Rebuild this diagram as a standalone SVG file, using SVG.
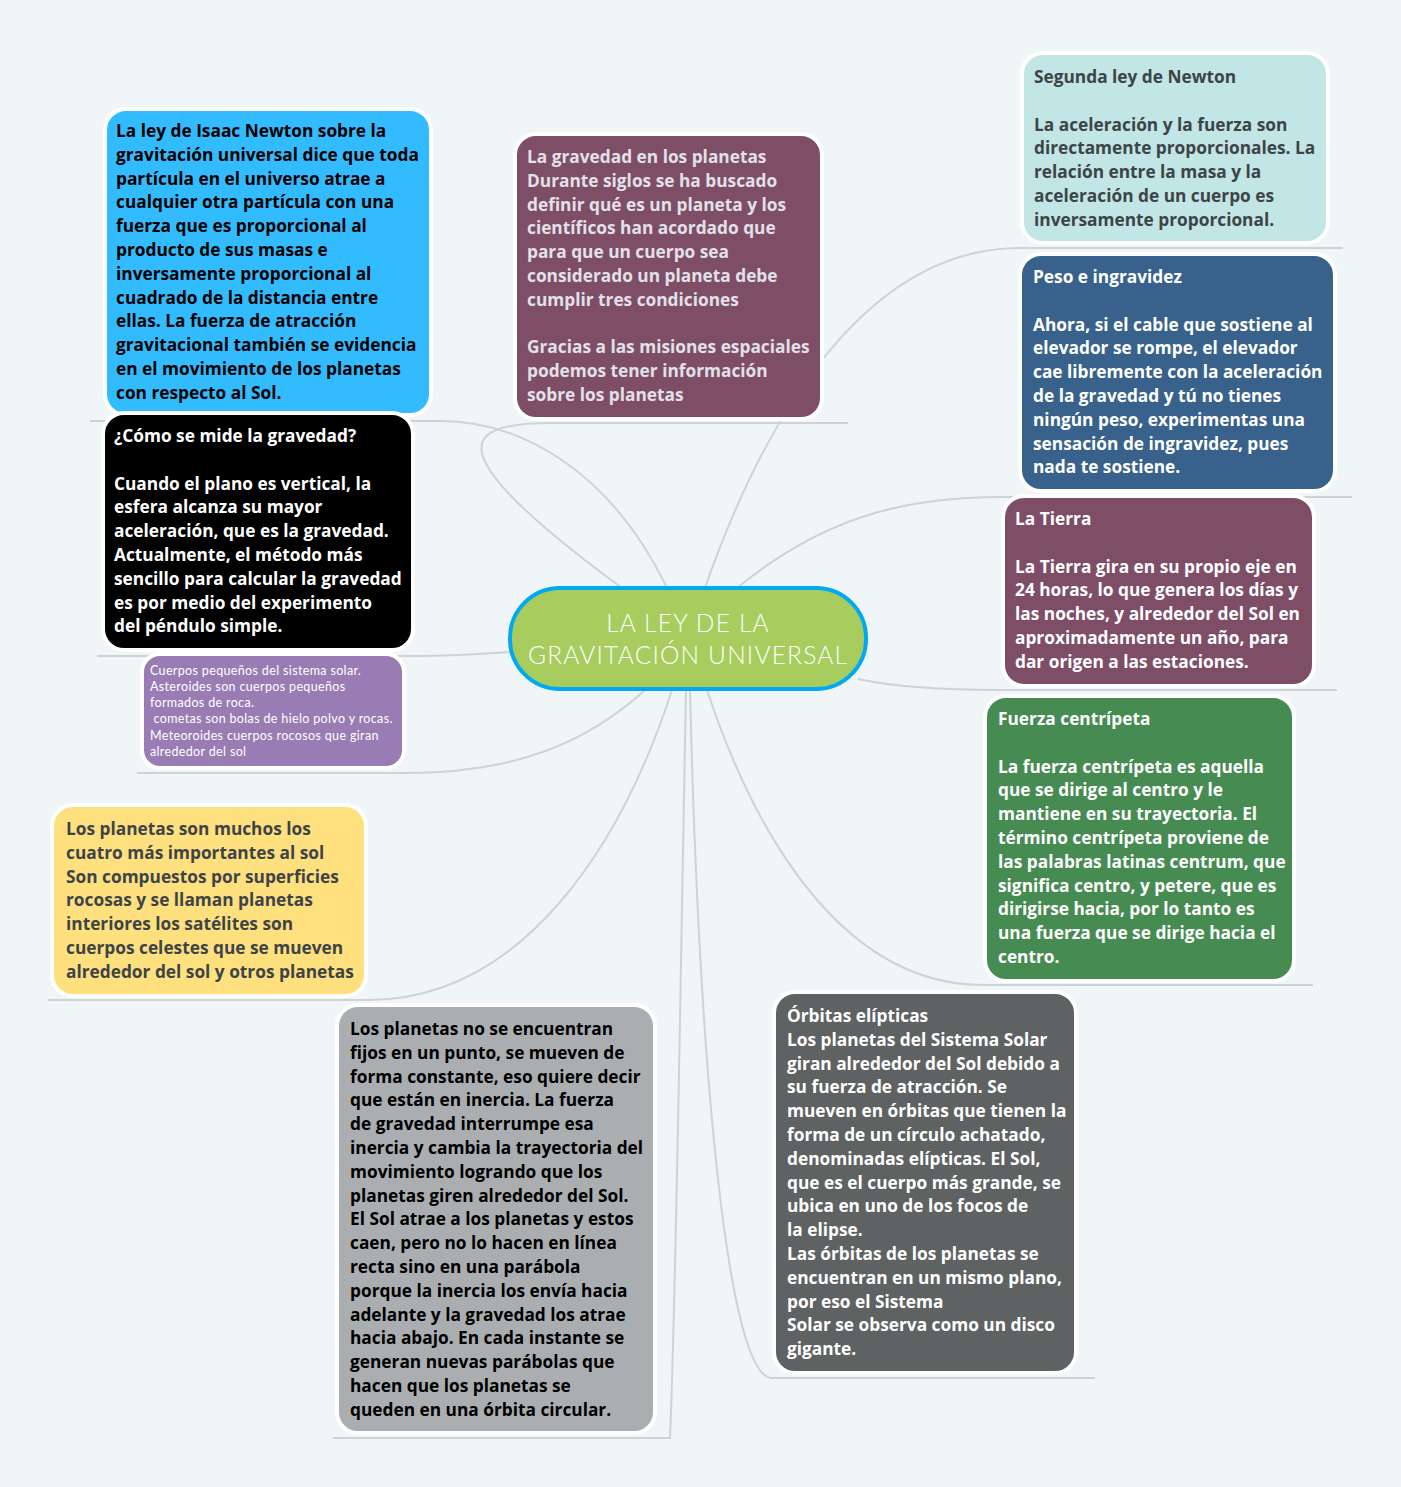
<svg xmlns="http://www.w3.org/2000/svg" width="1401" height="1487" viewBox="0 0 1401 1487">
<style>
.bg{fill:#f0f5f8}
.node{stroke:#ffffff;stroke-width:4}
.t{font-family:"Open Sans","Liberation Sans",sans-serif;font-weight:700;font-size:17.3px}
.small{font-family:Lato,"Liberation Sans",sans-serif;font-weight:400;font-size:12.5px;letter-spacing:0.35px;fill:#ffffff}
.center{font-family:Lato,"Liberation Sans",sans-serif;font-weight:300;font-size:24.5px;letter-spacing:1.2px;fill:#ffffff;text-anchor:middle}
.c{fill:none;stroke:#cdd3d7;stroke-width:2}
.dark{fill:#3d4448}
.white{fill:#ffffff}
.black{fill:#000000}
.pale{fill:#e2e1ea}
</style>
<rect class="bg" x="0" y="0" width="1401" height="1487"/>
<g id="connectors">
<path class="c" d="M 90 421 L 440 421 C 520 421 610 470 667 588"/>
<path class="c" d="M 622 588 C 420 440 470 422 560 423 L 848 423"/>
<path class="c" d="M 97 656 L 415 656 C 450 656 480 654 510 652"/>
<path class="c" d="M 137 773 L 406 773 C 520 773 590 740 645 690"/>
<path class="c" d="M 48 1000 L 368 1000 C 520 1000 620 850 672 690"/>
<path class="c" d="M 333 1438 L 670 1438 C 676 1300 680 1000 686 690"/>
<path class="c" d="M 1095 1378 L 772 1378 C 730 1378 700 1100 690 690"/>
<path class="c" d="M 1313 985 L 983 985 C 850 985 760 850 707 690"/>
<path class="c" d="M 1337 690 L 1001 690 C 950 690 900 688 858 679"/>
<path class="c" d="M 1352 497 L 1000 497 C 900 497 820 520 737 588"/>
<path class="c" d="M 1343 248 L 1020 248 C 860 248 760 430 705 588"/>
</g>
<g id="node-newton">
<rect class="node" x="105" y="109" width="326" height="306" rx="21" fill="#33bbff"/>
<text class="t black" x="116" y="137"><tspan x="116">La ley de Isaac Newton sobre la</tspan><tspan x="116" dy="23.8">gravitación universal dice que toda</tspan><tspan x="116" dy="23.8">partícula en el universo atrae a</tspan><tspan x="116" dy="23.8">cualquier otra partícula con una</tspan><tspan x="116" dy="23.8">fuerza que es proporcional al</tspan><tspan x="116" dy="23.8">producto de sus masas e</tspan><tspan x="116" dy="23.8">inversamente proporcional al</tspan><tspan x="116" dy="23.8">cuadrado de la distancia entre</tspan><tspan x="116" dy="23.8">ellas. La fuerza de atracción</tspan><tspan x="116" dy="23.8">gravitacional también se evidencia</tspan><tspan x="116" dy="23.8">en el movimiento de los planetas</tspan><tspan x="116" dy="23.8">con respecto al Sol.</tspan></text>
</g>
<g id="node-gravedad-planetas">
<rect class="node" x="515" y="134" width="307" height="285" rx="21" fill="#7e4d66"/>
<text class="t pale" x="527" y="163"><tspan x="527">La gravedad en los planetas</tspan><tspan x="527" dy="23.8">Durante siglos se ha buscado</tspan><tspan x="527" dy="23.8">definir qué es un planeta y los</tspan><tspan x="527" dy="23.8">científicos han acordado que</tspan><tspan x="527" dy="23.8">para que un cuerpo sea</tspan><tspan x="527" dy="23.8">considerado un planeta debe</tspan><tspan x="527" dy="23.8">cumplir tres condiciones</tspan><tspan x="527" dy="47.6">Gracias a las misiones espaciales</tspan><tspan x="527" dy="23.8">podemos tener información</tspan><tspan x="527" dy="23.8">sobre los planetas</tspan></text>
</g>
<g id="node-segunda-ley">
<rect class="node" x="1022" y="53" width="306" height="190" rx="21" fill="#c1e6e5"/>
<text class="t dark" x="1034" y="83"><tspan x="1034">Segunda ley de Newton</tspan><tspan x="1034" dy="47.6">La aceleración y la fuerza son</tspan><tspan x="1034" dy="23.8">directamente proporcionales. La</tspan><tspan x="1034" dy="23.8">relación entre la masa y la</tspan><tspan x="1034" dy="23.8">aceleración de un cuerpo es</tspan><tspan x="1034" dy="23.8">inversamente proporcional.</tspan></text>
</g>
<g id="node-peso">
<rect class="node" x="1020" y="254" width="315" height="237" rx="21" fill="#38628b"/>
<text class="t white" x="1033" y="283"><tspan x="1033">Peso e ingravidez</tspan><tspan x="1033" dy="47.6">Ahora, si el cable que sostiene al</tspan><tspan x="1033" dy="23.8">elevador se rompe, el elevador</tspan><tspan x="1033" dy="23.8">cae libremente con la aceleración</tspan><tspan x="1033" dy="23.8">de la gravedad y tú no tienes</tspan><tspan x="1033" dy="23.8">ningún peso, experimentas una</tspan><tspan x="1033" dy="23.8">sensación de ingravidez, pues</tspan><tspan x="1033" dy="23.8">nada te sostiene.</tspan></text>
</g>
<g id="node-tierra">
<rect class="node" x="1003" y="496" width="311" height="190" rx="21" fill="#7e4d66"/>
<text class="t white" x="1015" y="525"><tspan x="1015">La Tierra</tspan><tspan x="1015" dy="47.6">La Tierra gira en su propio eje en</tspan><tspan x="1015" dy="23.8">24 horas, lo que genera los días y</tspan><tspan x="1015" dy="23.8">las noches, y alrededor del Sol en</tspan><tspan x="1015" dy="23.8">aproximadamente un año, para</tspan><tspan x="1015" dy="23.8">dar origen a las estaciones.</tspan></text>
</g>
<g id="node-centripeta">
<rect class="node" x="985" y="696" width="309" height="285" rx="21" fill="#468c52"/>
<text class="t white" x="998" y="725"><tspan x="998">Fuerza centrípeta</tspan><tspan x="998" dy="47.6">La fuerza centrípeta es aquella</tspan><tspan x="998" dy="23.8">que se dirige al centro y le</tspan><tspan x="998" dy="23.8">mantiene en su trayectoria. El</tspan><tspan x="998" dy="23.8">término centrípeta proviene de</tspan><tspan x="998" dy="23.8">las palabras latinas centrum, que</tspan><tspan x="998" dy="23.8">significa centro, y petere, que es</tspan><tspan x="998" dy="23.8">dirigirse hacia, por lo tanto es</tspan><tspan x="998" dy="23.8">una fuerza que se dirige hacia el</tspan><tspan x="998" dy="23.8">centro.</tspan></text>
</g>
<g id="node-orbitas">
<rect class="node" x="774" y="992" width="302" height="381" rx="21" fill="#5f6263"/>
<text class="t white" x="787" y="1022"><tspan x="787">Órbitas elípticas</tspan><tspan x="787" dy="23.8">Los planetas del Sistema Solar</tspan><tspan x="787" dy="23.8">giran alrededor del Sol debido a</tspan><tspan x="787" dy="23.8">su fuerza de atracción. Se</tspan><tspan x="787" dy="23.8">mueven en órbitas que tienen la</tspan><tspan x="787" dy="23.8">forma de un círculo achatado,</tspan><tspan x="787" dy="23.8">denominadas elípticas. El Sol,</tspan><tspan x="787" dy="23.8">que es el cuerpo más grande, se</tspan><tspan x="787" dy="23.8">ubica en uno de los focos de</tspan><tspan x="787" dy="23.8">la elipse.</tspan><tspan x="787" dy="23.8">Las órbitas de los planetas se</tspan><tspan x="787" dy="23.8">encuentran en un mismo plano,</tspan><tspan x="787" dy="23.8">por eso el Sistema</tspan><tspan x="787" dy="23.8">Solar se observa como un disco</tspan><tspan x="787" dy="23.8">gigante.</tspan></text>
</g>
<g id="node-inercia">
<rect class="node" x="337" y="1005" width="318" height="428" rx="21" fill="#aaaeb0"/>
<text class="t black" x="350" y="1035"><tspan x="350">Los planetas no se encuentran</tspan><tspan x="350" dy="23.8">fijos en un punto, se mueven de</tspan><tspan x="350" dy="23.8">forma constante, eso quiere decir</tspan><tspan x="350" dy="23.8">que están en inercia. La fuerza</tspan><tspan x="350" dy="23.8">de gravedad interrumpe esa</tspan><tspan x="350" dy="23.8">inercia y cambia la trayectoria del</tspan><tspan x="350" dy="23.8">movimiento logrando que los</tspan><tspan x="350" dy="23.8">planetas giren alrededor del Sol.</tspan><tspan x="350" dy="23.8">El Sol atrae a los planetas y estos</tspan><tspan x="350" dy="23.8">caen, pero no lo hacen en línea</tspan><tspan x="350" dy="23.8">recta sino en una parábola</tspan><tspan x="350" dy="23.8">porque la inercia los envía hacia</tspan><tspan x="350" dy="23.8">adelante y la gravedad los atrae</tspan><tspan x="350" dy="23.8">hacia abajo. En cada instante se</tspan><tspan x="350" dy="23.8">generan nuevas parábolas que</tspan><tspan x="350" dy="23.8">hacen que los planetas se</tspan><tspan x="350" dy="23.8">queden en una órbita circular.</tspan></text>
</g>
<g id="node-planetas">
<rect class="node" x="52" y="805" width="314" height="191" rx="21" fill="#ffe07f"/>
<text class="t dark" x="66" y="835"><tspan x="66">Los planetas son muchos los</tspan><tspan x="66" dy="23.8">cuatro más importantes al sol</tspan><tspan x="66" dy="23.8">Son compuestos por superficies</tspan><tspan x="66" dy="23.8">rocosas y se llaman planetas</tspan><tspan x="66" dy="23.8">interiores los satélites son</tspan><tspan x="66" dy="23.8">cuerpos celestes que se mueven</tspan><tspan x="66" dy="23.8">alrededor del sol y otros planetas</tspan></text>
</g>
<g id="node-cuerpos">
<rect class="node" x="142" y="654" width="262" height="114" rx="18" fill="#9a7cb4"/>
<text class="small" x="150" y="674.5"><tspan x="150">Cuerpos pequeños del sistema solar.</tspan><tspan x="150" dy="16.3">Asteroides son cuerpos pequeños</tspan><tspan x="150" dy="16.3">formados de roca.</tspan><tspan x="150" dy="16.3">&#160;cometas son bolas de hielo polvo y rocas.</tspan><tspan x="150" dy="16.3">Meteoroides cuerpos rocosos que giran</tspan><tspan x="150" dy="16.3">alrededor del sol</tspan></text>
</g>
<g id="node-medir">
<rect class="node" x="103" y="413" width="310" height="237" rx="21" fill="#000000"/>
<text class="t white" x="114" y="442"><tspan x="114">¿Cómo se mide la gravedad?</tspan><tspan x="114" dy="47.6">Cuando el plano es vertical, la</tspan><tspan x="114" dy="23.8">esfera alcanza su mayor</tspan><tspan x="114" dy="23.8">aceleración, que es la gravedad.</tspan><tspan x="114" dy="23.8">Actualmente, el método más</tspan><tspan x="114" dy="23.8">sencillo para calcular la gravedad</tspan><tspan x="114" dy="23.8">es por medio del experimento</tspan><tspan x="114" dy="23.8">del péndulo simple.</tspan></text>
</g>
<g id="node-center">
<rect x="510" y="588" width="356" height="101" rx="50" fill="#a8cc5e" stroke="#00a9f4" stroke-width="4"/>
<text class="center" x="688" y="632"><tspan x="688">LA LEY DE LA</tspan><tspan x="688" dy="32">GRAVITACIÓN UNIVERSAL</tspan></text>
</g>
</svg>
